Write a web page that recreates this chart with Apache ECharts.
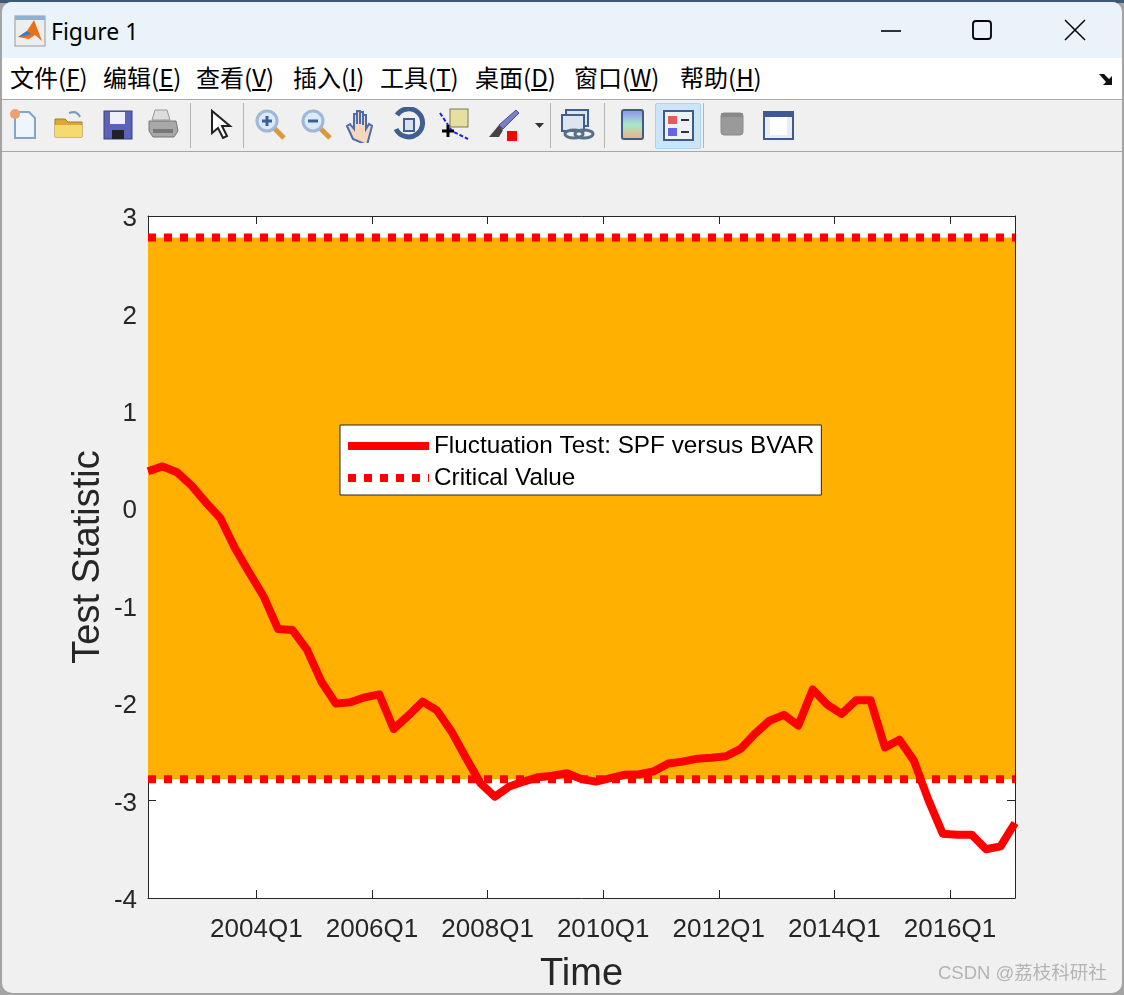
<!DOCTYPE html>
<html>
<head>
<meta charset="utf-8">
<title>Figure 1</title>
<script src="https://cdn.jsdelivr.net/npm/echarts@6/dist/echarts.min.js"></script>
<style>
html, body { margin: 0; padding: 0; width: 1124px; height: 995px; overflow: hidden; }
body { background: linear-gradient(#3c5a78 0, #3c5a78 3px, #a4a4a4 3px); position: relative; }
#win { position: absolute; left: 2px; top: 2px; width: 1120px; height: 991px; background: #f0f0f0; border-radius: 10px; overflow: hidden; }
#chart { position: absolute; left: 0; top: 0; width: 1124px; height: 995px; }
.bar { position: absolute; left: 2px; width: 1120px; }
#titlebar { top: 2px; height: 56px; background: #eaf3fa; border-radius: 10px 10px 0 0; }
#menubar { top: 58px; height: 41px; background: #fff; border-bottom: 1px solid #a8a8a8; }
#toolbar { top: 100px; height: 51px; background: #f0f0f0; border-bottom: 1px solid #a8a8a8; }
.t { position: absolute; white-space: nowrap; color: #000; font-family: "Noto Sans", "Noto Sans CJK SC", sans-serif; }
.menu { top: 60px; font-size: 24px; line-height: 34px; font-family: "Noto Sans CJK SC", sans-serif; }
.icon { position: absolute; top: 107px; width: 36px; height: 36px; }
.sep { position: absolute; top: 103px; width: 1px; height: 45px; background: #b4b4b4; }
#active { position: absolute; left: 655px; top: 103px; width: 44px; height: 44px; background: #cce4f7; border: 1px solid #a8d4f5; border-radius: 2px; }
#mark { position: absolute; left: 938px; top: 961px; color: #b4b4b4; font-size: 18.5px; line-height: 24px; font-family: "Liberation Sans", "Noto Sans CJK SC", sans-serif; white-space: nowrap; }
</style>
</head>
<body>
<div id="win"></div>
<div id="chart"></div>
<div class="bar" id="titlebar"></div>
<div class="bar" id="menubar"></div>
<div class="bar" id="toolbar"></div>
<div id="active"></div>
<div id="chrome"></div>
<div id="mark">CSDN @荔枝科研社</div>
<script>
// values, one per quarter
var statistic = [
	0.38, 0.43, 0.37, 0.235, 0.06, -0.10, -0.405, -0.66, -0.905, -1.24,
	-1.25, -1.45, -1.78, -2.005, -1.99, -1.94, -1.91, -2.265, -2.13, -1.985,
	-2.075, -2.29, -2.56, -2.82, -2.96, -2.855, -2.805, -2.76, -2.745, -2.72,
	-2.78, -2.805, -2.77, -2.735, -2.73, -2.70, -2.62, -2.60, -2.57, -2.56,
	-2.545, -2.47, -2.315, -2.18, -2.12, -2.23, -1.86, -2.015, -2.11, -1.97,
	-1.97, -2.455, -2.375, -2.59, -2.99, -3.34, -3.35, -3.35, -3.50, -3.47,
	-3.23
];
var criticalValue = 2.78;
var tickLabels = ['2004Q1', '2006Q1', '2008Q1', '2010Q1', '2012Q1', '2014Q1', '2016Q1'];
var tickQuarters = [8, 16, 24, 32, 40, 48, 56]; // quarters since 2002Q1
var firstQuarter = 0.5;
var lastQuarter = 60.5;
var yTicks = [-4, -3, -2, -1, 0, 1, 2, 3];
var menuItems = [['文件', 'F', 10], ['编辑', 'E', 103], ['查看', 'V', 196], ['插入', 'I', 293],
	['工具', 'T', 380], ['桌面', 'D', 475], ['窗口', 'W', 574], ['帮助', 'H', 680]];

// window chrome
var icons = [
	[25, '<path d="M8 5h14l6 6v20H8z" fill="#eef5fb" stroke="#7fa6cf" stroke-width="2"/><circle cx="8" cy="7" r="5" fill="#f0a070"/>'],
	[70, '<path d="M3 12h10l3 3h14v15H3z" fill="#d9a93a" stroke="#a87a1c"/><path d="M3 18h27v12H3z" fill="#f6d96f"/><path d="M17 6q8-3 11 4" fill="none" stroke="#7a9cc0" stroke-width="2"/>'],
	[118, '<rect x="4" y="4" width="28" height="28" fill="#5a63b8" stroke="#39437f"/><rect x="10" y="5" width="15" height="12" fill="#eef"/><rect x="12" y="23" width="12" height="9" fill="#222"/>'],
	[163, '<path d="M10 3h12l3 10H7z" fill="#ddd" stroke="#999"/><path d="M4 14h27l2 10-4 6H8l-4-6z" fill="#a8a8a8" stroke="#777"/><rect x="8" y="22" width="20" height="4" fill="#777"/>'],
	[220, '<path d="M10 4v22l6-5 5 10 4-2-5-10h8z" fill="#fff" stroke="#222" stroke-width="2"/>'],
	[271, '<line x1="20" y1="20" x2="31" y2="31" stroke="#d99a3c" stroke-width="5"/><circle cx="14" cy="14" r="10" fill="#dceaf8" stroke="#9db8d8" stroke-width="3"/><path d="M9 14h10M14 9v10" stroke="#3a5f9a" stroke-width="3"/>'],
	[317, '<line x1="20" y1="20" x2="31" y2="31" stroke="#d99a3c" stroke-width="5"/><circle cx="14" cy="14" r="10" fill="#dceaf8" stroke="#9db8d8" stroke-width="3"/><path d="M9 14h10" stroke="#3a5f9a" stroke-width="3"/>'],
	[362, '<path d="M9 32l-6-13 3-2 4 5V7h3v10-13h3v13-12h3v13-10h3v14l3-5 3 2-5 19z" fill="#f6d8bc" stroke="#4a6db0" stroke-width="2"/>'],
	[409, '<path d="M6 8A14 14 0 1 1 5 22" fill="none" stroke="#3f5f8f" stroke-width="5"/><path d="M13 12h10v12H13z" fill="#d8e2ee" stroke="#3f5f8f" stroke-width="2"/>'],
	[454, '<rect x="14" y="2" width="18" height="18" fill="#e6dfa0" stroke="#7a7a50"/><path d="M4 6l12 18 16 8" fill="none" stroke="#2222dd" stroke-width="2" stroke-dasharray="4 2"/><path d="M12 18v12M6 24h12" stroke="#000" stroke-width="3"/>'],
	[503, '<path d="M31 3l3 3-16 16-4-4z" fill="#7a80c8" stroke="#4a4f8f"/><path d="M14 18l4 5-4 7H4z" fill="#444"/><rect x="22" y="24" width="10" height="10" fill="#f00"/>'],
	[539, '<path d="M14 16h9l-4.5 5z" fill="#333"/>'],
	[578, '<rect x="6" y="3" width="22" height="16" fill="#dde6f0" stroke="#3f5f8f" stroke-width="2"/><rect x="2" y="8" width="22" height="16" fill="#dde6f0" stroke="#3f5f8f" stroke-width="2"/><ellipse cx="14" cy="27" rx="9" ry="4" fill="none" stroke="#5a7088" stroke-width="3"/><ellipse cx="24" cy="27" rx="9" ry="4" fill="none" stroke="#5a7088" stroke-width="3"/>'],
	[632, '<defs><linearGradient id="cb" x1="0" y1="0" x2="0" y2="1"><stop offset="0" stop-color="#8f8ff0"/><stop offset=".5" stop-color="#a8e8c8"/><stop offset="1" stop-color="#f0b080"/></linearGradient></defs><rect x="8" y="3" width="21" height="29" rx="2" fill="url(#cb)" stroke="#3f5a8f" stroke-width="2"/>'],
	[678, '<rect x="4" y="4" width="29" height="29" fill="#eef1f6" stroke="#3f5a8f" stroke-width="2"/><rect x="8" y="9" width="9" height="8" fill="#e85a5a"/><rect x="8" y="21" width="9" height="8" fill="#6464e8"/><path d="M21 13h8M21 25h8" stroke="#333" stroke-width="2"/>'],
	[733, '<rect x="6" y="6" width="22" height="22" rx="3" fill="#9a9a9a" stroke="#8a8a8a"/><rect x="6" y="6" width="22" height="4" fill="#888"/>'],
	[778, '<rect x="4" y="5" width="29" height="27" fill="#e8ecf4" stroke="#3f5a8f" stroke-width="2"/><rect x="4" y="5" width="29" height="5" fill="#3f5a8f"/><rect x="10" y="10" width="17" height="18" fill="#fff"/>']
];
var seps = [190, 243, 550, 604, 703];
var html = '<div class="t" style="left:51px;top:14px;font-size:23px;line-height:34px">Figure 1</div>';
html += '<svg class="icon" style="left:14px;top:15px;width:32px;height:32px" viewBox="0 0 32 32"><rect x="1" y="1" width="30" height="30" fill="#eee" stroke="#999"/><rect x="1" y="1" width="30" height="4" fill="#8fb0d0"/><path d="M4 22l9-6 7-11 8 21-7-6-6 4z" fill="#e8701a"/><path d="M4 22l9-6 4 3-7 2z" fill="#2f80c8"/></svg>';
html += '<svg class="icon" style="left:875px;top:13px" viewBox="0 0 36 36"><path d="M6 18h20" stroke="#000" stroke-width="1.6"/></svg>';
html += '<svg class="icon" style="left:964px;top:13px" viewBox="0 0 36 36"><rect x="9" y="8" width="18" height="18" rx="3" fill="none" stroke="#000" stroke-width="1.8"/></svg>';
html += '<svg class="icon" style="left:1057px;top:13px" viewBox="0 0 36 36"><path d="M8 7l20 20M28 7L8 27" stroke="#000" stroke-width="1.5"/></svg>';
html += '<svg class="icon" style="left:1097px;top:69px;width:20px;height:20px" viewBox="0 0 20 20"><path d="M2 5h5l5 5 3-3v9H6l3-3z" fill="#111"/></svg>';
menuItems.forEach(function(m) {
	html += '<div class="t menu" style="left:' + m[2] + 'px">' + m[0] + '(<u>' + m[1] + '</u>)</div>';
});
icons.forEach(function(ic) {
	html += '<svg class="icon" style="left:' + (ic[0] - 18) + 'px" viewBox="0 0 36 36">' + ic[1] + '</svg>';
});
seps.forEach(function(x) {
	html += '<div class="sep" style="left:' + x + 'px"></div>';
});
document.getElementById('chrome').innerHTML = html;

var fontName = '"Liberation Sans", Arial, sans-serif';
var axisColor = '#262626';
var lineData = statistic.map(function(v, i) {
	return [firstQuarter + i, v];
});
var chart = echarts.init(document.getElementById('chart'));
chart.setOption({
	animation : false,
	grid : {
		left : 148,
		top : 216,
		width : 867,
		height : 682,
		outerBoundsMode : 'none',
		show : true,
		backgroundColor : '#fff',
		borderWidth : 0
	},
	legend : {
		left : 340,
		top : 425,
		orient : 'vertical',
		align : 'left',
		padding : [ 9, 7, 5, 4 ],
		itemWidth : 81,
		itemHeight : 22,
		itemGap : 8,
		backgroundColor : '#fff',
		borderColor : axisColor,
		borderWidth : 1,
		itemStyle : { opacity : 0 },
		lineStyle : { width : 'inherit' },
		textStyle : {
			color : '#000',
			fontFamily : fontName,
			fontSize : 24.3
		},
		data : [ 'Fluctuation Test: SPF versus BVAR', 'Critical Value' ]
	},
	xAxis : [ {
		type : 'value',
		position : 'bottom',
		min : firstQuarter,
		max : lastQuarter,
		splitLine : { show : false },
		axisLine : { onZero : false, lineStyle : { color : axisColor, width : 1 } },
		axisTick : {
			inside : true,
			length : 8,
			customValues : tickQuarters,
			lineStyle : { color : axisColor, width : 1 }
		},
		axisLabel : {
			customValues : tickQuarters,
			margin : 19,
			color : axisColor,
			fontFamily : fontName,
			fontSize : 26,
			formatter : function(v) {
				return tickLabels[tickQuarters.indexOf(v)];
			}
		},
		name : 'Time',
		nameLocation : 'middle',
		nameGap : 58,
		nameTextStyle : { color : axisColor, fontFamily : fontName, fontSize : 38 }
	}, {
		type : 'value',
		position : 'top',
		min : firstQuarter,
		max : lastQuarter,
		splitLine : { show : false },
		axisLine : { onZero : false, lineStyle : { color : axisColor, width : 1 } },
		axisTick : {
			inside : true,
			length : 8,
			customValues : tickQuarters,
			lineStyle : { color : axisColor, width : 1 }
		},
		axisLabel : { show : false }
	} ],
	yAxis : [ {
		type : 'value',
		position : 'left',
		min : yTicks[0],
		max : yTicks[yTicks.length - 1],
		interval : 1,
		splitLine : { show : false },
		axisLine : { onZero : false, lineStyle : { color : axisColor, width : 1 } },
		axisTick : { inside : true, length : 8, lineStyle : { color : axisColor, width : 1 } },
		axisLabel : {
			margin : 11,
			formatter : '{n|{value}}',
			rich : {
				n : { padding : [ 6, 0, 0, 0 ], color : axisColor, fontFamily : fontName, fontSize : 26 }
			}
		},
		name : 'Test Statistic',
		nameLocation : 'middle',
		nameGap : 40,
		nameMoveOverlap : false,
		nameTextStyle : { color : axisColor, fontFamily : fontName, fontSize : 38 }
	}, {
		type : 'value',
		position : 'right',
		min : yTicks[0],
		max : yTicks[yTicks.length - 1],
		interval : 1,
		splitLine : { show : false },
		axisLine : { onZero : false, lineStyle : { color : axisColor, width : 1 } },
		axisTick : { inside : true, length : 8, lineStyle : { color : axisColor, width : 1 } },
		axisLabel : { show : false }
	} ],
	series : [ {
		name : 'Critical Value',
		type : 'line',
		symbol : 'none',
		clip : false,
		z : 4,
		color : '#f00',
		lineStyle : { color : '#f00', width : 8, type : [ 8, 8 ] },
		data : [ [ firstQuarter, criticalValue ], [ lastQuarter, criticalValue ] ],
		markArea : {
			silent : true,
			itemStyle : { color : '#ffb000', opacity : 1 },
			data : [ [ { xAxis : firstQuarter, yAxis : criticalValue }, { xAxis : lastQuarter + 0.07, yAxis : -criticalValue } ] ]
		}
	}, {
		name : 'Critical Value',
		type : 'line',
		symbol : 'none',
		clip : false,
		z : 4,
		color : '#f00',
		lineStyle : { color : '#f00', width : 8, type : [ 8, 8 ] },
		data : [ [ firstQuarter, -criticalValue ], [ lastQuarter, -criticalValue ] ]
	}, {
		name : 'Fluctuation Test: SPF versus BVAR',
		type : 'line',
		symbol : 'none',
		clip : false,
		z : 5,
		color : '#f00',
		lineStyle : { color : '#f00', width : 8, join : 'round' },
		data : lineData
	} ]
});
</script>
</body>
</html>
